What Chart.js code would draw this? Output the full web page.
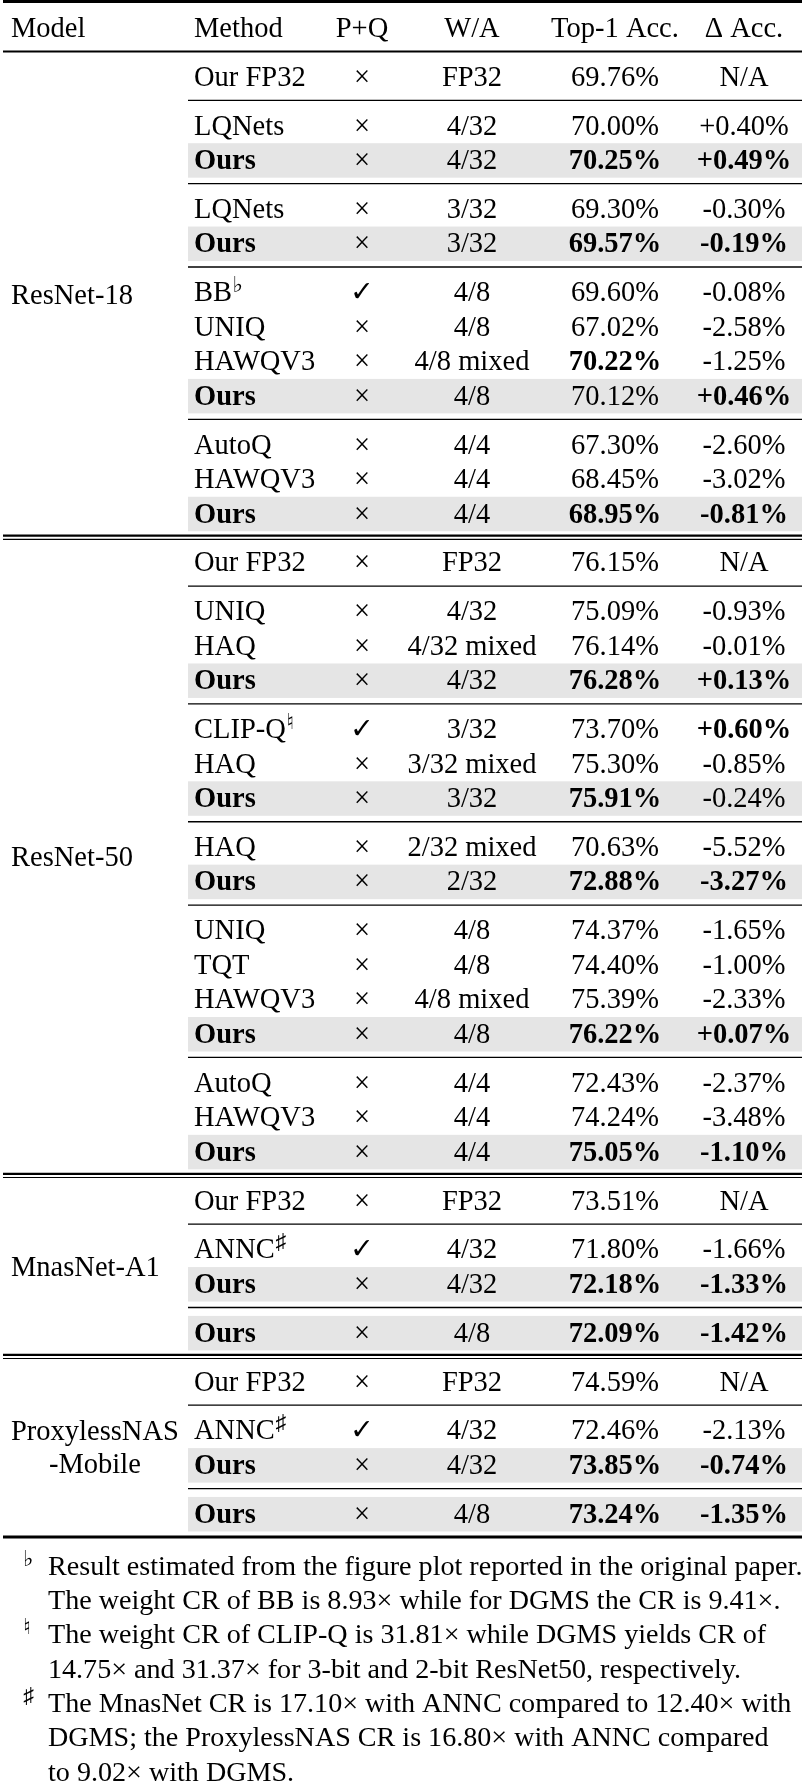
<!DOCTYPE html>
<html>
<head>
<meta charset="utf-8">
<script src="https://cdn.jsdelivr.net/npm/chart.js@4.4.1/dist/chart.umd.min.js"></script>
<style>
  html, body { margin: 0; padding: 0; background: #ffffff; }
  #wrap { width: 807px; height: 1782px; }
  canvas { display: block; }
</style>
</head>
<body>
<div id="wrap"><canvas id="c" width="807" height="1782"></canvas></div>
<script>
// ---------------- DATA ----------------
const columns = ["Model", "Method", "P+Q", "W/A", "Top-1 Acc.", "\u0394 Acc."];
const models = ["ResNet-18", "ResNet-50", "MnasNet-A1", ["ProxylessNAS", "-Mobile"]];

const methods = [
  "Our FP32", "LQNets", "Ours", "LQNets", "Ours", "BB", "UNIQ", "HAWQV3", "Ours", "AutoQ", "HAWQV3", "Ours",
  "Our FP32", "UNIQ", "HAQ", "Ours", "CLIP-Q", "HAQ", "Ours", "HAQ", "Ours", "UNIQ", "TQT", "HAWQV3", "Ours", "AutoQ", "HAWQV3", "Ours",
  "Our FP32", "ANNC", "Ours", "Ours",
  "Our FP32", "ANNC", "Ours", "Ours"
];
const methodSup = {5: "\u266D", 16: "\u266E", 29: "\u266F", 33: "\u266F"};
const pq = [
  "×", "×", "×", "×", "×", "✓", "×", "×", "×", "×", "×", "×",
  "×", "×", "×", "×", "✓", "×", "×", "×", "×", "×", "×", "×", "×", "×", "×", "×",
  "×", "✓", "×", "×",
  "×", "✓", "×", "×"
];
const wa = [
  "FP32", "4/32", "4/32", "3/32", "3/32", "4/8", "4/8", "4/8 mixed", "4/8", "4/4", "4/4", "4/4",
  "FP32", "4/32", "4/32 mixed", "4/32", "3/32", "3/32 mixed", "3/32", "2/32 mixed", "2/32", "4/8", "4/8", "4/8 mixed", "4/8", "4/4", "4/4", "4/4",
  "FP32", "4/32", "4/32", "4/8",
  "FP32", "4/32", "4/32", "4/8"
];
const top1 = [
  69.76, 70.00, 70.25, 69.30, 69.57, 69.60, 67.02, 70.22, 70.12, 67.30, 68.45, 68.95,
  76.15, 75.09, 76.14, 76.28, 73.70, 75.30, 75.91, 70.63, 72.88, 74.37, 74.40, 75.39, 76.22, 72.43, 74.24, 75.05,
  73.51, 71.80, 72.18, 72.09,
  74.59, 72.46, 73.85, 73.24
];
const delta = [
  null, 0.40, 0.49, -0.30, -0.19, -0.08, -2.58, -1.25, 0.46, -2.60, -3.02, -0.81,
  null, -0.93, -0.01, 0.13, 0.60, -0.85, -0.24, -5.52, -3.27, -1.65, -1.00, -2.33, 0.07, -2.37, -3.48, -1.10,
  null, -1.66, -1.33, -1.42,
  null, -2.13, -0.74, -1.35
];
const boldTop1 = [2, 4, 7, 11, 15, 18, 20, 24, 27, 30, 31, 34, 35];
const boldDelta = [2, 4, 8, 11, 15, 16, 20, 24, 27, 30, 31, 34, 35];
const modelOfRow = [
  0,0,0,0,0,0,0,0,0,0,0,0,
  1,1,1,1,1,1,1,1,1,1,1,1,1,1,1,1,
  2,2,2,2,
  3,3,3,3
];
const blockOfRow = [
  0,1,1,2,2,3,3,3,3,4,4,4,
  5,6,6,6,7,7,7,8,8,9,9,9,9,10,10,10,
  11,12,12,13,
  14,15,15,16
];
const footSymbols = ["\u266D", "\u266E", "\u266F"];
const footLines = [
  ["Result estimated from the figure plot reported in the original paper.",
   "The weight CR of BB is 8.93× while for DGMS the CR is 9.41×."],
  ["The weight CR of CLIP-Q is 31.81× while DGMS yields CR of",
   "14.75× and 31.37× for 3-bit and 2-bit ResNet50, respectively."],
  ["The MnasNet CR is 17.10× with ANNC compared to 12.40× with",
   "DGMS; the ProxylessNAS CR is 16.80× with ANNC compared",
   "to 9.02× with DGMS."]
];

// ---------------- LAYOUT ----------------
const W = 807, H = 1782;
const COL = { model: 11, method: 194, pq: 362, wa: 472, top1: 615, delta: 744 };
const TABLE_L = 3, TABLE_R = 802, PART_L = 188;
const HEADER_Y = 27, PITCH = 34.5, RULE_STEP = 48.85;
const FOOT_Y0 = 1565, FOOT_PITCH = 34.3, FOOT_X = 48, FOOT_SYM_X = 23;
const FS = 28.5, FOOT_FS = 28.1, SUP_FS = 22;
const FONT = '"Liberation Serif", "Times New Roman", "DejaVu Sans", serif';

const rowY = [];
(function () {
  let y = HEADER_Y;
  for (let i = 0; i < methods.length; i++) {
    y += (i === 0 || blockOfRow[i] !== blockOfRow[i - 1]) ? RULE_STEP : PITCH;
    rowY.push(y);
  }
})();

function fmtDelta(v) {
  if (v === null) return "N/A";
  return (v > 0 ? "+" : (v < 0 ? "-" : "+")) + Math.abs(v).toFixed(2) + "%";
}

const headerPts = columns.map((c, j) => ({ x: [COL.model, COL.method, COL.pq, COL.wa, COL.top1, COL.delta][j], y: HEADER_Y }));
const modelPts = [];
const modelTexts = [];
models.forEach((m, g) => {
  const idx = modelOfRow.map((v, i) => v === g ? i : -1).filter(i => i >= 0);
  const mid = (rowY[idx[0]] + rowY[idx[idx.length - 1]]) / 2;
  if (Array.isArray(m)) {
    modelPts.push({ x: COL.model, y: mid - 16.5 });
    modelTexts.push({ t: m[0], align: "left" });
    modelPts.push({ x: COL.model, y: mid + 16.5 });
    modelTexts.push({ t: m[1], align: "centerUnder", ref: m[0] });
  } else {
    modelPts.push({ x: COL.model, y: mid });
    modelTexts.push({ t: m, align: "left" });
  }
});

const footPts = [], footTexts = [];
let fl = 0;
footLines.forEach((lines, k) => {
  lines.forEach((t, li) => {
    const y = FOOT_Y0 + fl * FOOT_PITCH;
    footPts.push({ x: FOOT_X, y: y });
    footTexts.push({ t: t, align: "left", size: FOOT_FS, sym: li === 0 ? footSymbols[k] : null });
    fl++;
  });
});

const datasets = [
  { label: "header", data: headerPts, texts: columns.map((c, j) => ({ t: c, align: j < 2 ? "left" : "center" })) },
  { label: "model", data: modelPts, texts: modelTexts },
  { label: "method", data: rowY.map(y => ({ x: COL.method, y })),
    texts: methods.map((m, i) => ({ t: m, align: "left", bold: m === "Ours", sup: methodSup[i] || null })) },
  { label: "pq", data: rowY.map(y => ({ x: COL.pq, y })), texts: pq.map(t => ({ t, align: "center" })) },
  { label: "wa", data: rowY.map(y => ({ x: COL.wa, y })), texts: wa.map(t => ({ t, align: "center" })) },
  { label: "top1", data: rowY.map(y => ({ x: COL.top1, y })),
    texts: top1.map((v, i) => ({ t: v.toFixed(2) + "%", align: "center", bold: boldTop1.includes(i) })) },
  { label: "delta", data: rowY.map(y => ({ x: COL.delta, y })),
    texts: delta.map((v, i) => ({ t: fmtDelta(v), align: "center", bold: boldDelta.includes(i) })) },
  { label: "foot", data: footPts, texts: footTexts }
].map(d => Object.assign(d, { pointRadius: 0, pointHoverRadius: 0, showLine: false }));

// ---------------- PLUGIN ----------------
const tablePlugin = {
  id: "tableDraw",
  beforeDatasetsDraw(chart) {
    const ctx = chart.ctx, xs = chart.scales.x, ys = chart.scales.y;
    const px = v => xs.getPixelForValue(v), py = v => ys.getPixelForValue(v);
    ctx.save();
    ctx.fillStyle = "#e5e5e5";
    methods.forEach((m, i) => {
      if (m === "Ours") {
        const top = py(rowY[i] - 16), bot = py(rowY[i] + 18.5);
        ctx.fillRect(px(PART_L), top, px(TABLE_R) - px(PART_L), bot - top);
      }
    });
    ctx.strokeStyle = "#000";
    const hline = (y, x0, x1, lw) => {
      ctx.lineWidth = lw; ctx.beginPath();
      ctx.moveTo(px(x0), py(y)); ctx.lineTo(px(x1), py(y)); ctx.stroke();
    };
    hline(1.6, TABLE_L, TABLE_R, 3);
    hline((HEADER_Y + rowY[0]) / 2, TABLE_L, TABLE_R, 2);
    for (let i = 1; i < rowY.length; i++) {
      const mid = (rowY[i - 1] + rowY[i]) / 2;
      if (modelOfRow[i] !== modelOfRow[i - 1]) {
        hline(mid - 1.5, TABLE_L, TABLE_R, 2.2);
        hline(mid + 2.2, TABLE_L, TABLE_R, 1.1);
      } else if (blockOfRow[i] !== blockOfRow[i - 1]) {
        hline(mid, PART_L, TABLE_R, 1.3);
      }
    }
    hline(rowY[rowY.length - 1] + 24, TABLE_L, TABLE_R, 3);
    ctx.restore();
  },
  afterDatasetsDraw(chart) {
    const ctx = chart.ctx;
    ctx.save();
    ctx.fillStyle = "#000";
    ctx.textBaseline = "alphabetic";
    chart.data.datasets.forEach((ds, di) => {
      const meta = chart.getDatasetMeta(di);
      meta.data.forEach((el, i) => {
        const info = ds.texts[i];
        const size = info.size || FS;
        ctx.font = (info.bold ? "bold " : "") + size + "px " + FONT;
        const w = ctx.measureText(info.t).width;
        let x = el.x;
        if (info.align === "center") x = el.x - w / 2;
        if (info.align === "centerUnder") {
          const rw = ctx.measureText(info.ref).width;
          x = el.x + rw / 2 - w / 2;
        }
        const base = el.y + 9.8;
        ctx.textAlign = "left";
        ctx.fillText(info.t, x, base);
        if (info.sup) {
          ctx.font = SUP_FS + "px " + FONT;
          ctx.fillText(info.sup, x + w + 0.5, base - 9);
        }
        if (info.sym) {
          ctx.font = SUP_FS + "px " + FONT;
          ctx.fillText(info.sym, FOOT_SYM_X, base - 9);
        }
      });
    });
    ctx.restore();
  }
};

new Chart(document.getElementById("c"), {
  type: "scatter",
  data: { datasets },
  options: {
    responsive: false,
    animation: false,
    devicePixelRatio: 1,
    layout: { padding: 0 },
    events: [],
    plugins: { legend: { display: false }, tooltip: { enabled: false }, title: { display: false } },
    scales: {
      x: { type: "linear", min: 0, max: W, display: false },
      y: { type: "linear", min: 0, max: H, reverse: true, display: false }
    }
  },
  plugins: [tablePlugin]
});
</script>
</body>
</html>
